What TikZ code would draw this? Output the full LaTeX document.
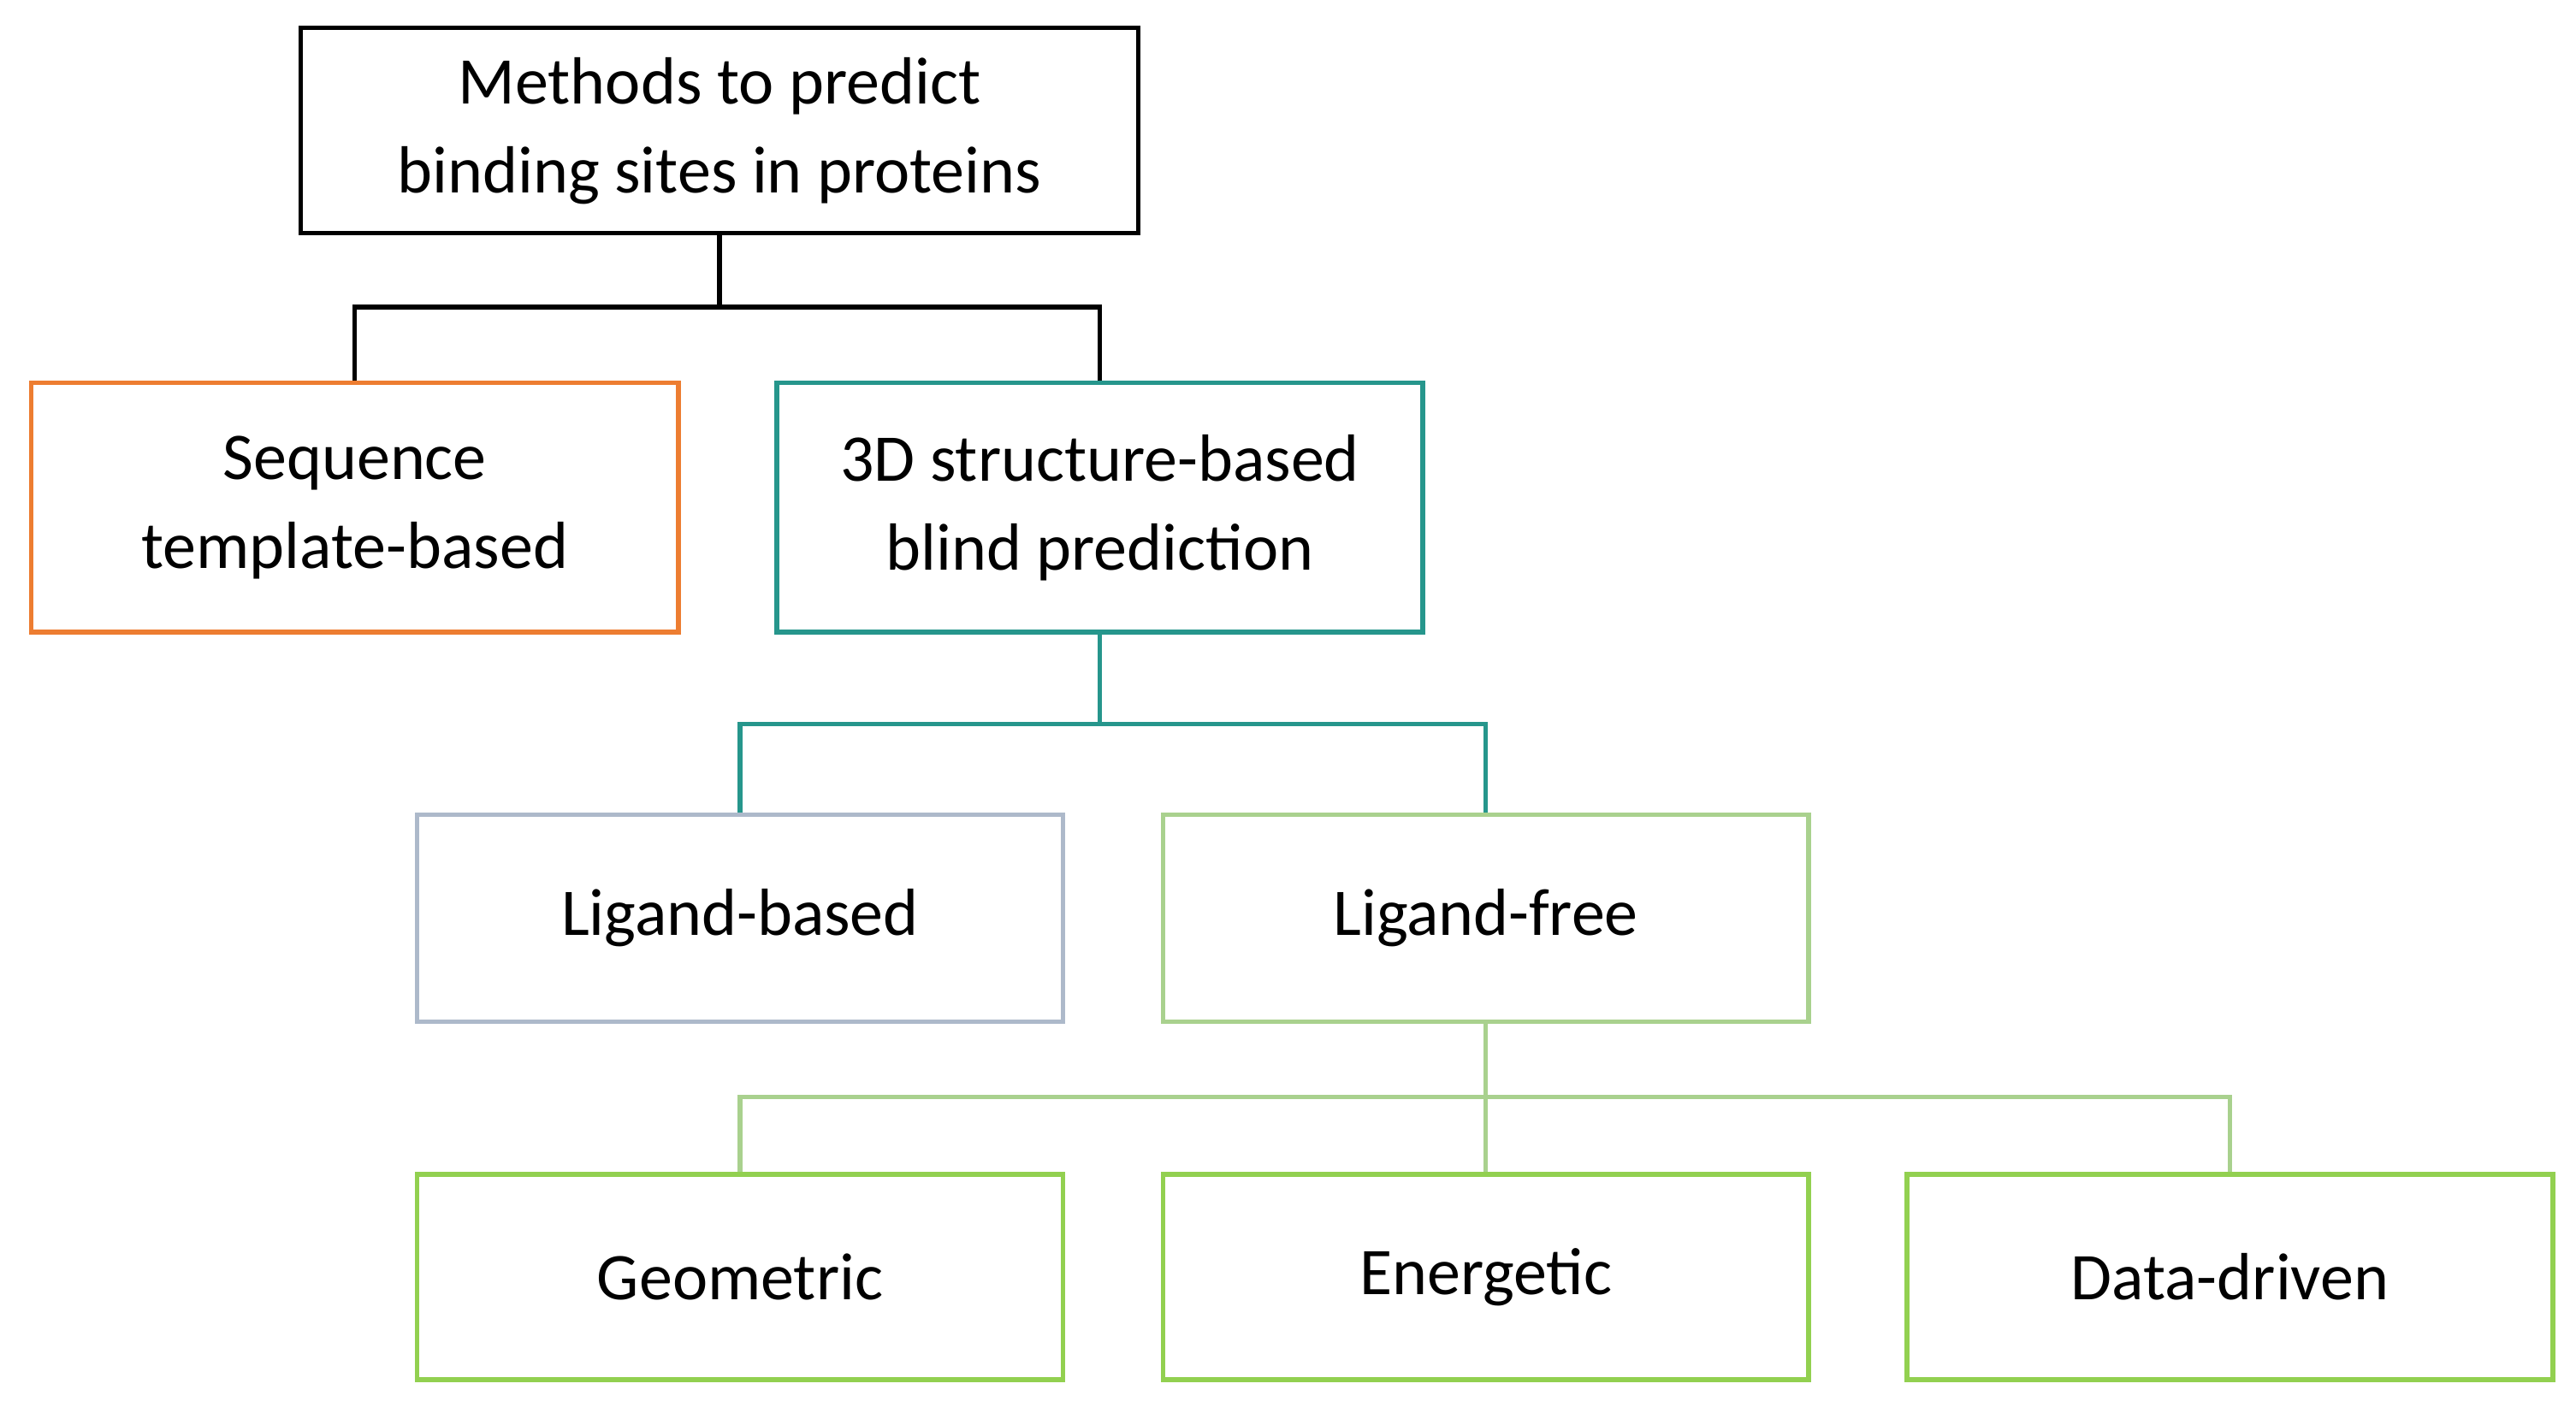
\documentclass[tikz,border=0pt]{standalone}
\usepackage{fontspec}
\setmainfont{Carlito}
\definecolor{cor}{RGB}{237,125,49}
\definecolor{cte}{RGB}{38,150,140}
\definecolor{cgb}{RGB}{173,185,202}
\definecolor{clg}{RGB}{169,209,142}
\definecolor{cgr}{RGB}{146,208,80}
\begin{document}
\begin{tikzpicture}[x=1.92pt,y=-1.92pt,
  box/.style={draw,line width=5.5pt,inner sep=0pt,align=center,font=\fontsize{78}{104}\selectfont},
  ln/.style={line width=5.5pt}]
\useasboundingbox (0,0) rectangle (1568.2,864);
\node[box,minimum width=510*1.92pt,minimum height=125*1.92pt] (top) at (438,79.5) {Methods to predict\\binding sites in proteins};
\node[box,draw=cor,minimum width=394*1.92pt,minimum height=152*1.92pt] (seq) at (216,309) {Sequence\\template-based};
\node[box,draw=cte,minimum width=393*1.92pt,minimum height=152*1.92pt] (td) at (669.5,309) {3D structure-based\\blind prediction};
\node[box,draw=cgb,minimum width=393*1.92pt,minimum height=126*1.92pt] (lb) at (450.5,559) {Ligand-based};
\node[box,draw=clg,minimum width=393*1.92pt,minimum height=126*1.92pt] (lf) at (904.5,559) {Ligand-free};
\node[box,draw=cgr,minimum width=393*1.92pt,minimum height=125*1.92pt] (geo) at (450.5,777.5) {Geometric};
\node[box,draw=cgr,minimum width=393*1.92pt,minimum height=125*1.92pt] (en) at (904.5,777.5) {Energetic};
\node[box,draw=cgr,minimum width=393*1.92pt,minimum height=125*1.92pt] (dd) at (1357.5,777.5) {Data-driven};
\draw[ln] (top.south) -- (438,187) -| (seq.north);
\draw[ln] (438,187) -| (td.north);
\draw[ln,cte] (td.south) -- (669.5,441) -| (lb.north);
\draw[ln,cte] (669.5,441) -| (lf.north);
\draw[ln,clg] (lf.south) -- (en.north);
\draw[ln,clg] (geo.north) |- (904.5,668) -| (dd.north);
\end{tikzpicture}
\end{document}
